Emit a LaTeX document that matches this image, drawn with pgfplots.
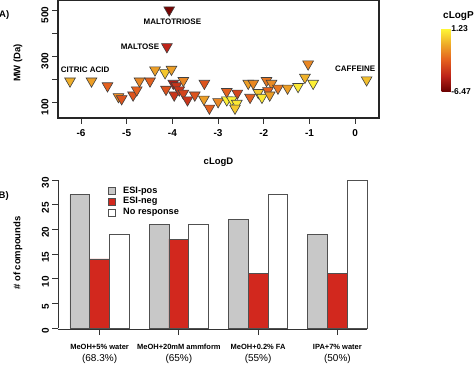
\documentclass[border=0pt]{standalone}
\usepackage{pgfplots}
\pgfplotsset{compat=1.18}
\usepackage{fontspec}
\setmainfont{Liberation Sans}
\definecolor{barred}{RGB}{210,40,30}
\definecolor{bargray}{RGB}{200,200,200}
\definecolor{edge}{RGB}{80,80,80}
\pgfplotstableread{
x y c
-4.07 500 -6.2
-4.12 340 -4.5
-6.24 191 -0.6
-5.77 191 -1.0
-5.42 170 -2.6
-5.18 123 -1.5
-5.11 114 -3.0
-4.86 130 -3.0
-4.78 152 -2.6
-4.72 191 -1.6
-4.49 191 -2.6
-4.38 239 -1.0
-4.16 227 0.0
-4.02 242 -1.0
-4.14 155 -3.0
-3.98 181 -5.0
-3.91 170 -4.0
-3.76 193 -1.6
-3.96 130 -4.0
-3.85 152 -4.0
-3.76 138 -3.5
-3.67 109 -4.0
-3.51 130 -3.0
-3.30 181 -3.0
-3.31 112 -1.0
-3.19 73 -2.6
-3.00 101 -1.6
-2.81 109 1.0
-2.81 145 -2.6
-2.58 138 -3.5
-2.70 109 1.0
-2.59 94 0.8
-2.63 73 0.0
-2.34 181 -1.0
-2.23 181 -1.6
-2.30 120 -2.6
-2.12 141 0.0
-2.04 120 0.8
-1.94 193 -2.0
-1.83 181 -1.5
-1.91 149 -2.6
-1.87 130 -1.0
-1.69 160 -2.0
-1.48 160 -1.0
-1.25 167 0.8
-1.03 265 -1.6
-1.10 207 -0.5
-0.92 181 1.0
0.25 196 -0.2
}\scatterdata
\begin{document}
\begin{tikzpicture}[x=1pt,y=1pt]
\path[use as bounding box] (0,0) rectangle (474,366);
% ---------- Panel A ----------
\begin{axis}[
 scale only axis, width=321pt, height=118pt,
 at={(58pt,248pt)}, anchor=south west,
 xmin=-6.503, xmax=0.521, ymin=30.4, ymax=543.5,
 axis line style={line width=1.6pt, black!85},
 tick align=outside, major tick length=6pt,
 tick style={line width=0.8pt, black!80},
 xtick={-6,-5,-4,-3,-2,-1,0}, xticklabels={-6,-5,-4,-3,-2,-1,0},
 ytick={100,200,300,400,500}, yticklabels={100,,300,,500},
 xtick pos=bottom, ytick pos=left,
 ticklabel style={font=\bfseries\fontsize{10}{12}\selectfont},
 xticklabel style={yshift=-2pt},
 yticklabel style={rotate=90, anchor=south, xshift=-5pt},
 colormap={heatr}{rgb255=(105,0,0) rgb255=(190,35,25) rgb255=(228,95,30) rgb255=(238,170,40) rgb255=(255,250,55)},
 point meta min=-6.47, point meta max=1.23,
 colorbar,
 colorbar style={
   at={(parent axis.north east)}, anchor=north west,
   xshift=54pt, yshift=-28.3pt, width=9.3pt, height=63.4pt,
   ytick={-6.47,1.23}, yticklabels={-6.47,1.23},
   axis line style={draw=none}, major tick length=0pt,
   yticklabel style={rotate=0, anchor=west, font=\bfseries\fontsize{8.5}{10}\selectfont, xshift=-3pt},
 },
 clip=false,
]
\addplot[scatter, only marks, scatter src=explicit, mark=triangle*, mark size=6.2pt,
  mark options={rotate=180, line width=0.6pt},
  scatter/use mapped color={draw=black!75, fill=mapped color}]
  table[x=x, y=y, meta=c] {\scatterdata};
\node[font=\bfseries\fontsize{8}{9}\selectfont] at (axis cs:-4.0,449) {MALTOTRIOSE};
\node[font=\bfseries\fontsize{8}{9}\selectfont] at (axis cs:-4.71,340) {MALTOSE};
\node[font=\bfseries\fontsize{8}{9}\selectfont] at (axis cs:-5.91,239) {CITRIC ACID};
\node[font=\bfseries\fontsize{8}{9}\selectfont] at (axis cs:0.0,243) {CAFFEINE};
\end{axis}
\node[anchor=west, font=\bfseries\fontsize{10}{12}\selectfont, inner sep=0pt] at (443,350.3) {cLogP};
\node[anchor=west, font=\bfseries\fontsize{9.5}{11}\selectfont, inner sep=0pt] at (-1,351) {A)};
\node[font=\bfseries\fontsize{9.5}{11}\selectfont] at (218.5,204) {cLogD};
\node[rotate=90, font=\bfseries\fontsize{9.5}{11}\selectfont] at (18,303) {MW (Da)};
% ---------- Panel B ----------
\begin{axis}[
 scale only axis, width=321pt, height=155.6pt,
 at={(58pt,36.4pt)}, anchor=south west,
 xmin=0.4, xmax=16.6, ymin=-0.3, ymax=31.2,
 axis line style={draw=none},
 tick align=outside, major tick length=5.5pt,
 tick style={line width=0.8pt, black!80},
 xtick={2.5,6.5,10.5,14.5},
 xticklabels={
  {{\bfseries\fontsize{7.5}{9}\selectfont MeOH+5\% water}\\[0.3pt]{\fontsize{10}{11}\selectfont (68.3\%)}},
  {{\bfseries\fontsize{7.5}{9}\selectfont MeOH+20mM ammform}\\[0.3pt]{\fontsize{10}{11}\selectfont (65\%)}},
  {{\bfseries\fontsize{7.5}{9}\selectfont MeOH+0.2\% FA}\\[0.3pt]{\fontsize{10}{11}\selectfont (55\%)}},
  {{\bfseries\fontsize{7.5}{9}\selectfont IPA+7\% water}\\[0.3pt]{\fontsize{10}{11}\selectfont (50\%)}}},
 xticklabel style={align=center, yshift=-5.5pt},
 ytick={0,5,10,15,20,25,30},
 yticklabels={0,5,10,15,20,25,30},
 yticklabel style={rotate=90, anchor=south, xshift=-3pt, font=\bfseries\fontsize{10}{12}\selectfont},
 xtick pos=bottom, ytick pos=left,
 ybar, bar width=19.8pt, bar shift=0pt,
 clip=false,
]
\addplot[fill=bargray, draw=edge, line width=0.7pt] coordinates {(1.5,27) (5.5,21) (9.5,22) (13.5,19)};
\addplot[fill=barred, draw=edge, line width=0.7pt] coordinates {(2.5,14) (6.5,18) (10.5,11) (14.5,11)};
\addplot[fill=white, draw=edge, line width=0.7pt] coordinates {(3.5,19) (7.5,21) (11.5,27) (15.5,30)};
\draw[line width=0.8pt, black!80] (axis cs:0.4,0) -- (axis cs:0.4,30);
\draw[line width=0.8pt, black!80] (axis cs:0.4,-0.3) -- (axis cs:16,-0.3);
\end{axis}
% legend
\draw[fill=bargray, draw=edge, line width=0.6pt] (108.5,171.8) rectangle (115,178.3);
\draw[fill=barred, draw=edge, line width=0.6pt] (108.5,161.1) rectangle (115,167.6);
\draw[fill=white, draw=edge, line width=0.6pt] (108.5,150.1) rectangle (115,156.6);
\node[anchor=west, inner sep=0pt, font=\bfseries\fontsize{9.2}{11}\selectfont] at (123,175) {ESI-pos};
\node[anchor=west, inner sep=0pt, font=\bfseries\fontsize{9.2}{11}\selectfont] at (123,164.3) {ESI-neg};
\node[anchor=west, inner sep=0pt, font=\bfseries\fontsize{9.2}{11}\selectfont] at (123,153.3) {No response};
\node[anchor=west, inner sep=0pt, font=\bfseries\fontsize{9.5}{11}\selectfont] at (-1.5,170) {B)};
\node[rotate=90, font=\bfseries\fontsize{9.5}{11}\selectfont] at (18,113) {\# of compounds};
\end{tikzpicture}
\end{document}
